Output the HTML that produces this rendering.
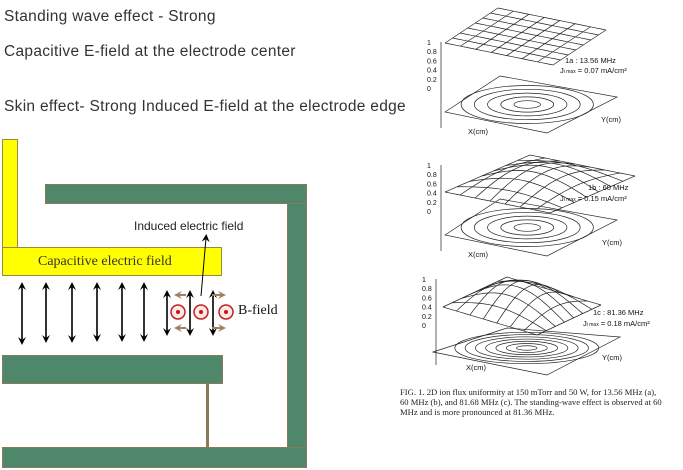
<!DOCTYPE html>
<html><head><meta charset="utf-8"><style>
body{margin:0;background:#fff;width:683px;height:470px;overflow:hidden;position:relative;font-family:"Liberation Sans","Noto Sans CJK KR",sans-serif}
.t{position:absolute;font-size:15.5px;color:#333;white-space:nowrap;letter-spacing:0.3px}
.b{position:absolute;box-sizing:border-box}
.y{background:#ffff00;border:1px solid #9a8a40}
.g{background:#4f876a;border:1px solid #8a7a5a}
svg{position:absolute;left:0;top:0}
</style></head><body>
<div class="t" style="left:4px;top:8px">Standing wave effect - Strong</div>
<div class="t" style="left:4px;top:43px">Capacitive E-field at the electrode center</div>
<div class="t" style="left:4px;top:98px">Skin effect- Strong Induced E-field at the electrode edge</div>

<div class="b y" style="left:2px;top:139px;width:16px;height:110px"></div>
<div class="b y" style="left:2px;top:247px;width:220px;height:29px"></div>
<div class="b g" style="left:45px;top:184px;width:262px;height:20px"></div>
<div class="b g" style="left:287px;top:203px;width:20px;height:246px"></div>
<div class="b g" style="left:2px;top:355px;width:221px;height:29px"></div>
<div class="b g" style="left:2px;top:447px;width:305px;height:21px"></div>
<div class="b" style="left:206px;top:383px;width:3px;height:65px;background:#8a7a5a"></div>

<div style="position:absolute;left:38px;top:254px;font-family:'Liberation Serif',serif;font-size:14px;color:#333">Capacitive electric field</div>
<div style="position:absolute;left:134px;top:219px;font-size:12px;color:#222">Induced electric field</div>
<div style="position:absolute;left:238px;top:303px;font-family:'Liberation Serif',serif;font-size:14px;color:#111">B-field</div>

<svg width="683" height="470" id="s">
<defs><marker id="a" markerWidth="8" markerHeight="8" refX="4" refY="4" orient="auto-start-reverse" markerUnits="userSpaceOnUse"><path d="M0,0 L8,4 L0,8 L3,4z" fill="#000"/></marker>
<marker id="a2" markerWidth="8" markerHeight="8" refX="4" refY="4" orient="auto-start-reverse" markerUnits="userSpaceOnUse"><path d="M0,0 L8,4 L0,8 L3,4z" fill="#a08060"/></marker></defs>
<g stroke="#000" stroke-width="1.6" marker-start="url(#a)" marker-end="url(#a)">
<line x1="22" y1="286" x2="22" y2="341"/><line x1="46" y1="286" x2="46" y2="339"/>
<line x1="72" y1="286" x2="72" y2="339"/><line x1="97" y1="286" x2="97" y2="338"/>
<line x1="122" y1="286" x2="122" y2="338"/><line x1="144" y1="286" x2="144" y2="338"/>
<line x1="167" y1="294" x2="167" y2="332"/><line x1="190" y1="294" x2="190" y2="332"/><line x1="213" y1="294" x2="213" y2="332"/>
</g>
<g stroke="#a08060" stroke-width="2" marker-end="url(#a2)">
<line x1="186" y1="295" x2="178" y2="295"/><line x1="212" y1="295" x2="222" y2="295"/>
<line x1="186" y1="328" x2="178" y2="328"/><line x1="212" y1="328" x2="222" y2="328"/>
</g>
<g fill="#fde8e8" stroke="#c02020" stroke-width="1.5">
<circle cx="178" cy="312" r="7"/><circle cx="201" cy="312" r="7"/><circle cx="226" cy="312" r="7"/></g>
<g fill="#d01010"><circle cx="178" cy="312" r="2"/><circle cx="201" cy="312" r="2"/><circle cx="226" cy="312" r="2"/></g>
<line x1="201" y1="296" x2="206" y2="238" stroke="#000" stroke-width="1" marker-end="url(#a)"/>
<g id="plots" fill="none" stroke="#222" stroke-width="0.7"></g>
<g font-family="Liberation Sans,sans-serif" font-size="7.5" fill="#111">
<text x="565" y="63">1a : 13.56 MHz</text><text x="560" y="73">J<tspan font-size="5">i max</tspan> = 0.07 mA/cm²</text>
<text x="588" y="190">1b : 60 MHz</text><text x="560" y="201">J<tspan font-size="5">i max</tspan> = 0.15 mA/cm²</text>
<text x="593" y="315">1c : 81.36 MHz</text><text x="583" y="326">J<tspan font-size="5">i max</tspan> = 0.18 mA/cm²</text>
<text x="601" y="122">Y(cm)</text><text x="602" y="245">Y(cm)</text><text x="602" y="360">Y(cm)</text>
<text x="468" y="134">X(cm)</text><text x="468" y="257">X(cm)</text><text x="466" y="370">X(cm)</text>
</g>
</svg>
<div style="position:absolute;left:400px;top:387px;font-family:'Liberation Serif',serif;font-size:8.6px;line-height:10px;color:#222;white-space:nowrap">FIG. 1. 2D ion flux uniformity at 150 mTorr and 50 W, for 13.56 MHz (a),<br>60 MHz (b), and 81.68 MHz (c). The standing-wave effect is observed at 60<br>MHz and is more pronounced at 81.36 MHz.</div>
<script>
var G=document.getElementById('plots'),NS='http://www.w3.org/2000/svg';
function el(t,a){var e=document.createElementNS(NS,t);for(var k in a)e.setAttribute(k,a[k]);G.appendChild(e);return e;}
function P(L,T,R,B,u,v,h){
 var x=L[0]+(B[0]-L[0])*u+(T[0]-L[0])*v,y=L[1]+(B[1]-L[1])*u+(T[1]-L[1])*v;
 return [x,y-h*Math.sin(Math.PI*u)*Math.sin(Math.PI*v)];}
function surf(L,T,R,B,h){var n=7;
 for(var i=0;i<=n;i++){var a=[],b=[];for(var j=0;j<=20;j++){var p=P(L,T,R,B,i/n,j/20,h),q=P(L,T,R,B,j/20,i/n,h);a.push(p.join(','));b.push(q.join(','));}
 el('polyline',{points:a.join(' ')});el('polyline',{points:b.join(' ')});}}
function base(L,T,R,B,k){el('polygon',{points:[L,T,R,B].join(' ')});
 var cx=(L[0]+T[0]+R[0]+B[0])/4,cy=(L[1]+T[1]+R[1]+B[1])/4;
 for(var i=1;i<=k;i++){el('ellipse',{cx:cx,cy:cy,rx:i*(R[0]-L[0])/(2.6*k),ry:i*(B[1]-T[1])/(3*k)});}}
function axis(x,y0,y1){el('line',{x1:x,y1:y0,x2:x,y2:y1+40});
 var l=['1','0.8','0.6','0.4','0.2','0'];for(var i=0;i<6;i++){var t=el('text',{x:x-14,y:y0+3+i*(y1-y0)/5,'font-size':7,fill:'#111',stroke:'none','font-family':'Liberation Sans'});t.textContent=l[i];}}
axis(441,42,88);surf([445,43],[498,8],[620,33],[553,65],0);base([445,112],[500,76],[617,97],[547,133],5);
axis(441,165,211);surf([445,192],[530,155],[610,177],[550,213],15);base([445,235],[500,199],[617,220],[547,256],5);
axis(436,279,325);surf([443,307],[507,277],[610,293],[537,335],22);base([433,352],[507,328],[620,337],[547,375],7);
</script>
</body></html>
